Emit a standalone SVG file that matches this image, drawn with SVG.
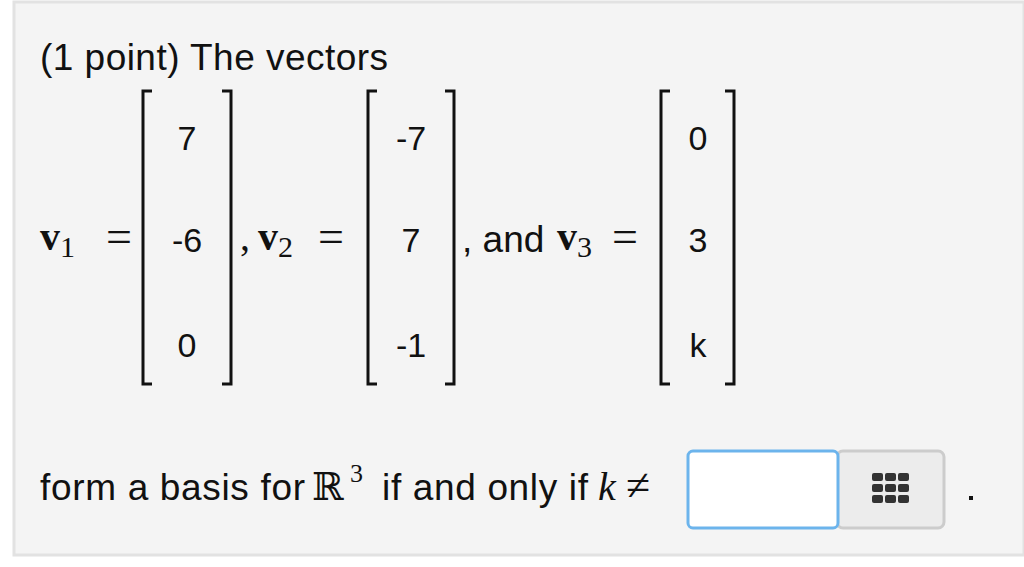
<svg xmlns="http://www.w3.org/2000/svg" width="1024" height="567" viewBox="0 0 1024 567">
<style>
.t{font-family:"Liberation Sans",Arial,sans-serif;font-size:37px;fill:#111}
.m{font-family:"Liberation Sans",Arial,sans-serif;font-size:34px;fill:#111;text-anchor:middle}
.s{font-family:"Liberation Serif","Times New Roman",serif;fill:#111}
.b{fill:none;stroke:#111;stroke-width:3}
</style>
<rect width="1024" height="567" fill="#fff"/>
<rect x="14" y="2" width="1010" height="553" fill="#f4f4f4" stroke="#e2e2e2" stroke-width="3"/>
<text class="t" x="40" y="70" textLength="348">(1 point) The vectors</text>
<g id="v1">
<text class="s" x="40" y="250" font-size="40" font-weight="bold">v<tspan font-size="30" font-weight="normal" dy="7">1</tspan></text>
<text class="s" x="106" y="252" font-size="46">=</text>
<path class="b" d="M152 91H143V384H152M222 91H231V384H222"/>
<text class="m" x="187" y="150">7</text><text class="m" x="187" y="252">-6</text><text class="m" x="187" y="357">0</text>
</g>
<g id="v2">
<text class="s" x="240" y="250" font-size="40">,<tspan font-weight="bold" dx="8">v</tspan><tspan font-size="30" dy="7">2</tspan></text>
<text class="s" x="318" y="252" font-size="46">=</text>
<path class="b" d="M377 91H368V384H377M445 91H454V384H445"/>
<text class="m" x="411" y="150">-7</text><text class="m" x="411" y="252">7</text><text class="m" x="411" y="357">-1</text>
</g>
<g id="v3">
<text class="t" x="462" y="252">, and</text>
<text class="s" x="557" y="250" font-size="40" font-weight="bold">v<tspan font-size="30" font-weight="normal" dy="7">3</tspan></text>
<text class="s" x="612" y="252" font-size="46">=</text>
<path class="b" d="M670 91H661V384H670M725 91H734V384H725"/>
<text class="m" x="698" y="150">0</text><text class="m" x="698" y="252">3</text><text class="m" x="698" y="357">k</text>
</g>
<g id="answer">
<text class="t" x="40" y="500" textLength="265">form a basis for</text>
<text x="312" y="500" font-family="DejaVu Serif,serif" font-size="38" fill="#111">ℝ</text>
<text class="s" x="350" y="482" font-size="26">3</text>
<text class="t" x="382" y="500" textLength="206">if and only if</text>
<text class="s" x="598" y="500" font-size="40" font-style="italic">k</text>
<text class="s" x="626" y="500" font-size="44">≠</text>
<rect x="837" y="451" width="107" height="77" rx="6" fill="#ececec" stroke="#cccccc" stroke-width="3"/>
<rect x="688" y="451" width="150" height="77" rx="5" fill="#fff" stroke="#6cb4ec" stroke-width="3"/>
<g fill="#333">
<rect x="872" y="473" width="11" height="8" rx="2"/><rect x="885" y="473" width="11" height="8" rx="2"/><rect x="898" y="473" width="11" height="8" rx="2"/>
<rect x="872" y="484" width="11" height="8" rx="2"/><rect x="885" y="484" width="11" height="8" rx="2"/><rect x="898" y="484" width="11" height="8" rx="2"/>
<rect x="872" y="495" width="11" height="8" rx="2"/><rect x="885" y="495" width="11" height="8" rx="2"/><rect x="898" y="495" width="11" height="8" rx="2"/>
</g>
<rect x="969" y="496" width="4" height="4" fill="#111"/>
</g>
</svg>
